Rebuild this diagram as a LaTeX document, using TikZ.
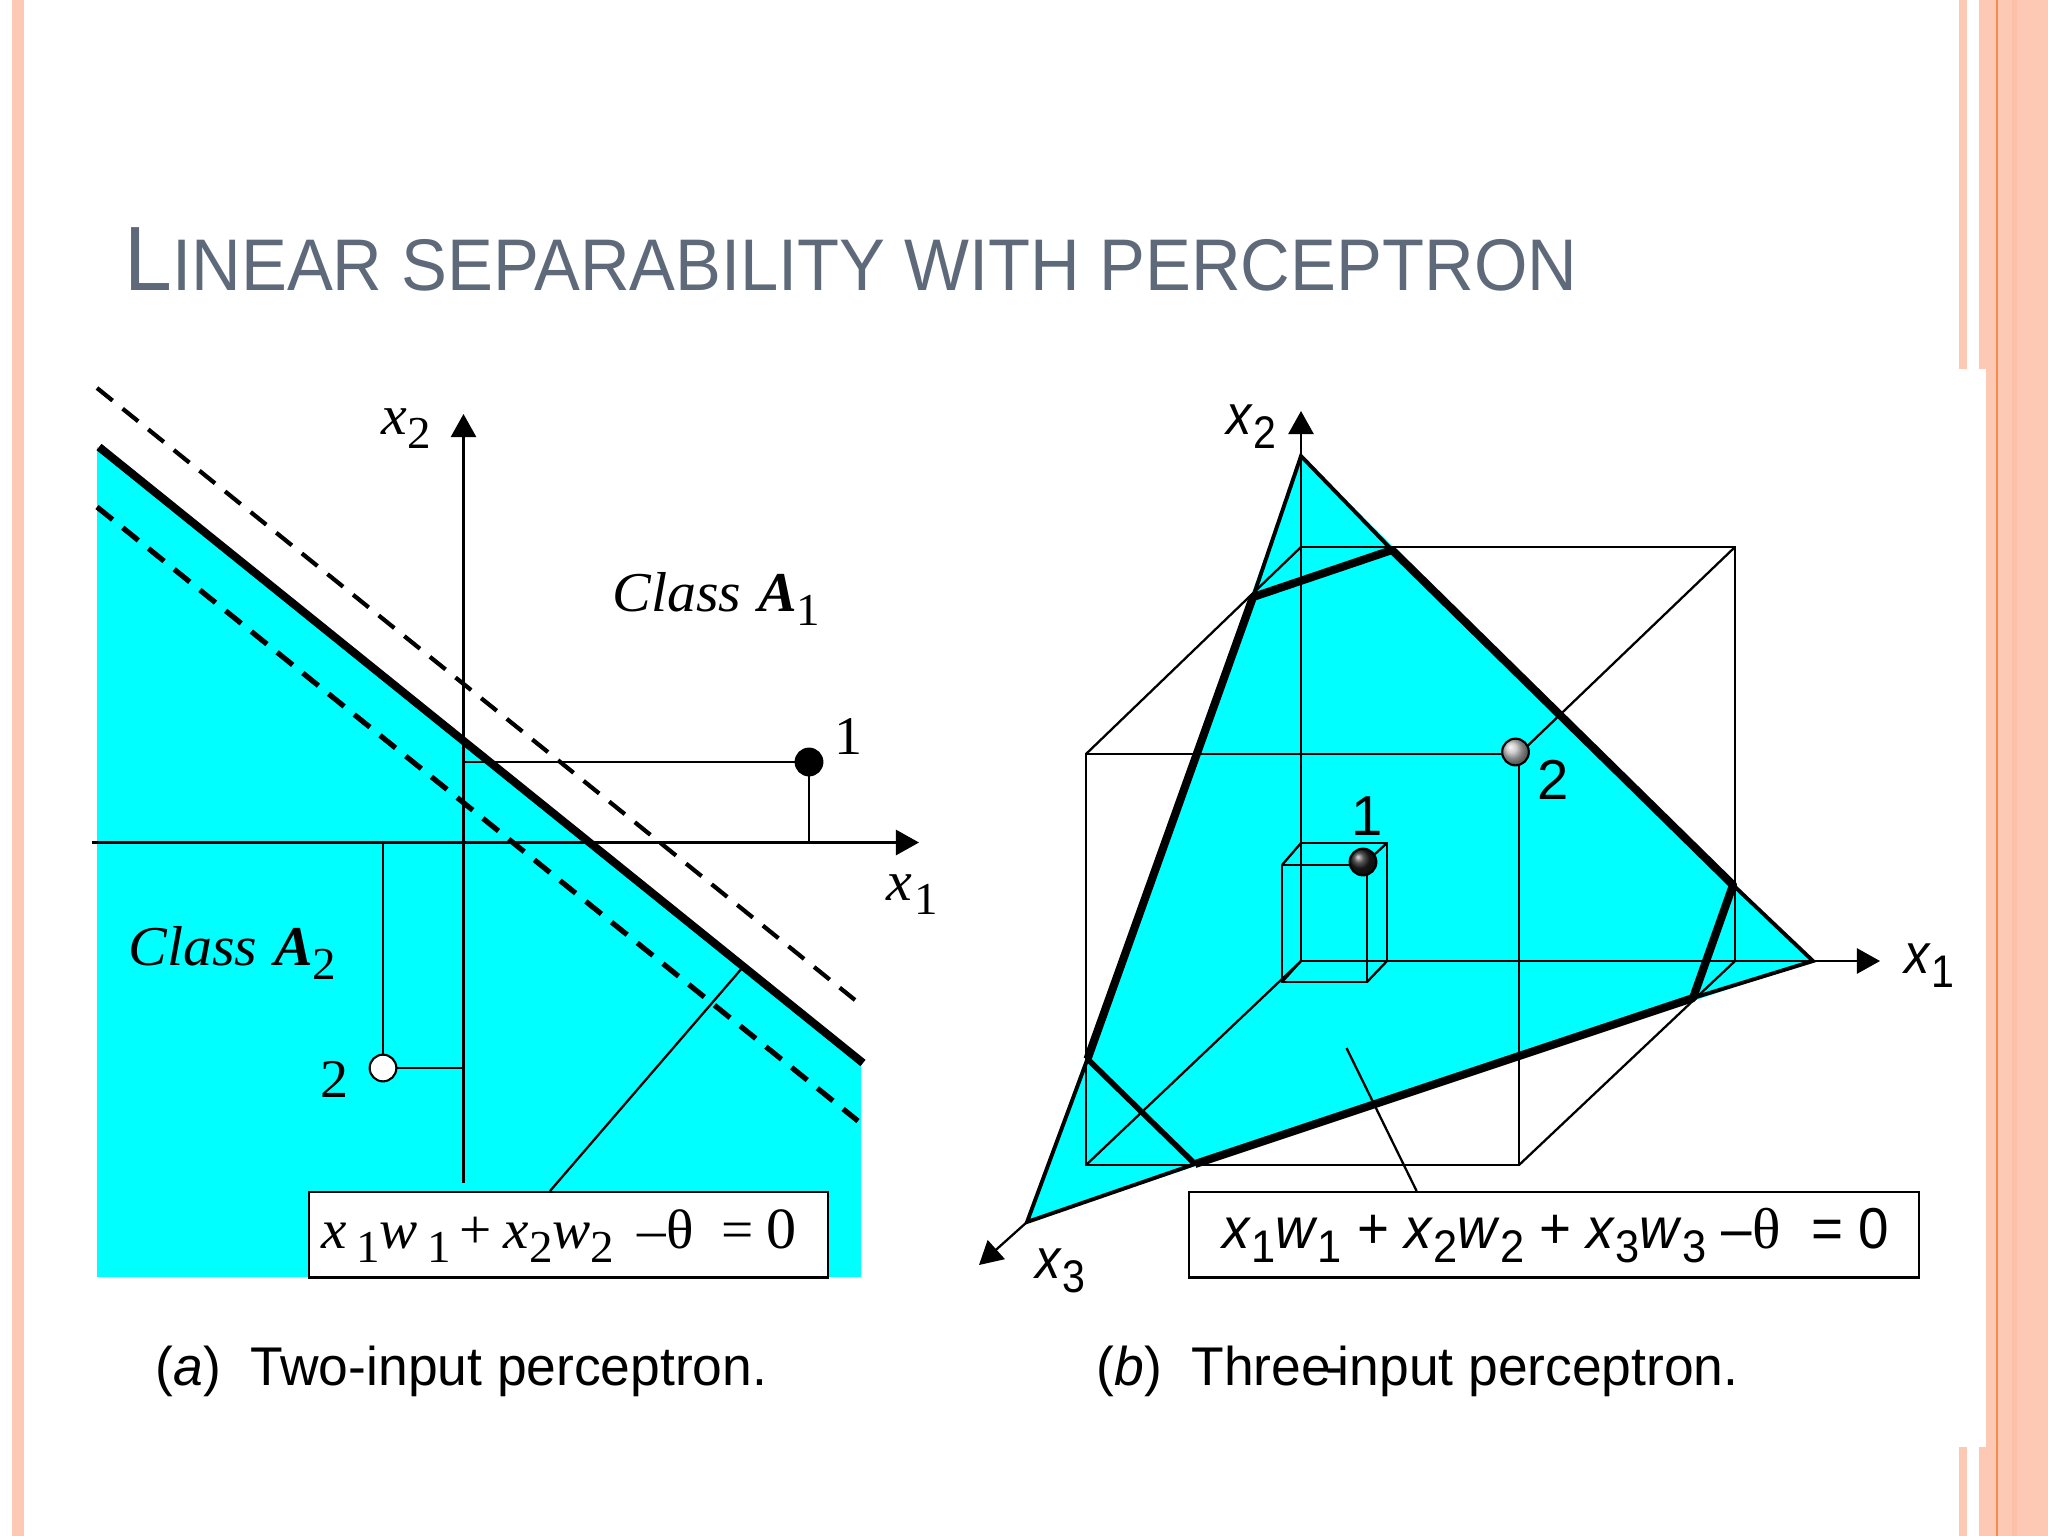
\documentclass[tikz,border=0pt]{standalone}
\usepackage{fontspec}
\setmainfont{Liberation Sans}
\newfontfamily\eqserif[FakeStretch=1.03]{Liberation Serif}
\newfontfamily\capsans[FakeStretch=0.95]{Liberation Sans}
\newfontfamily\capfig[FakeStretch=0.98]{Liberation Sans}
\newfontfamily\axsans[FakeStretch=0.9]{Liberation Sans}
\newfontfamily\titlesans[FakeStretch=0.94]{Liberation Sans}
\usetikzlibrary{arrows.meta}

\definecolor{planecyan}{HTML}{00FFFF}
\definecolor{titlegray}{HTML}{5E6A7A}
\definecolor{stripepeach}{HTML}{FDC9B4}
\definecolor{stripedark}{HTML}{FCBFA8}
\definecolor{stripeorange}{HTML}{F58B4C}

\newcommand{\lowsub}[1]{\raisebox{-4.2pt}{\fontsize{13}{13}\selectfont #1}}

\tikzset{
  thinline/.style={black, line width=0.65pt},
  heavyline/.style={black, line width=2.3pt},
  midline/.style={black, line width=1.1pt},
  axisline/.style={black, line width=0.65pt, -{Triangle[length=6.6pt, width=7.2pt]}},
  plainlabel/.style={inner sep=0pt, anchor=base west},
  eqbox/.style={draw=black, line width=0.65pt, fill=white, minimum height=24.3pt, inner sep=0pt, anchor=north west},
  dotnode/.style={circle, draw=black, line width=0.6pt, inner sep=0pt, minimum size=7.6pt}
}

\begin{document}
\begin{tikzpicture}[x=0.01cm, y=-0.01cm]
    \useasboundingbox (0,0) rectangle (2048,1536);

    % Slide border
    \fill[stripepeach] (12,0) rectangle (24,1536);
    \fill[stripepeach] (1959,0) rectangle (1967,369);
    \fill[stripepeach] (1979,0) rectangle (1986,369);
    \fill[stripepeach] (1959,1447) rectangle (1967,1536);
    \fill[stripepeach] (1979,1447) rectangle (1986,1536);
    \fill[stripepeach] (1986,0) rectangle (2048,1536);
    \fill[stripedark] (2012,0) rectangle (2017,1536);
    \fill[stripeorange] (1996,0) rectangle (1997.5,1536);

    % Title
    \node[plainlabel, text=titlegray] (title) at (124,290)
      {\titlesans\fontsize{26}{26}\selectfont L\fontsize{20.8}{26}\selectfont INEAR SEPARABILITY WITH PERCEPTRON};

    % Two-input panel: half plane
    \coordinate (O) at (463.5,842.5);
    \coordinate (lineA) at (99,447);
    \coordinate (lineB) at (863,1063);
    \fill[planecyan] (97,447) -- (861,1062) -- (861,1277) -- (97,1277) -- cycle;

    % Dashed bounds and decision line
    \draw[black, line width=1.2pt, dash pattern=on 5.7pt off 3.66pt] (97,388) -- (855,1000);
    \draw[black, line width=1.5pt, dash pattern=on 5.7pt off 3.7pt] (97,507) -- (858,1121);
    \draw[heavyline] (lineA) -- (lineB);

    % Axes
    \draw[axisline] (O |- 0,1183) -- (463.5,414);
    \draw[axisline] (92,842.5) -- (919,842.5);
    \node[plainlabel] (xtwoA) at (381,434) {\eqserif\fontsize{16}{18}\selectfont\itshape x\lowsub{\upshape 2}};
    \node[plainlabel] (xoneA) at (886,900) {\eqserif\fontsize{16}{18}\selectfont\itshape x\kern0.6pt\lowsub{\upshape 1}};

    % Points
    \node[dotnode, fill=black] (ptoneA) at (809,762) {};
    \node[dotnode, fill=white] (pttwoA) at (383,1068) {};
    \draw[thinline] (O |- ptoneA) -- (ptoneA);
    \draw[thinline] (ptoneA) -- (ptoneA |- O);
    \draw[thinline] (pttwoA) -- (pttwoA |- O);
    \draw[thinline] (pttwoA) -- (O |- pttwoA);
    \node[plainlabel, anchor=base] (numoneA) at (849,754) {\eqserif\fontsize{15.5}{18}\selectfont 1};
    \node[plainlabel, anchor=base] (numtwoA) at (335,1097) {\eqserif\fontsize{15.5}{18}\selectfont 2};

    % Class labels
    \node[plainlabel] (classone) at (612,611) {\eqserif\fontsize{16}{18}\selectfont\itshape Class\kern0.6pt\ \bfseries A\lowsub{\mdseries\upshape 1}};
    \node[plainlabel] (classtwo) at (128,965) {\eqserif\fontsize{16}{18}\selectfont\itshape Class\kern0.6pt\ \bfseries A\lowsub{\mdseries\upshape 2}};

    % Equation box with leader
    \node[eqbox, minimum width=147.6pt] (eqA) at (308,1191) {};
    \coordinate (leadA) at (743,967);
    \draw[thinline] (leadA) -- (550,1191);
    \node[plainlabel] (eqtextA) at (321,1248) {\eqserif\fontsize{15.8}{18}\selectfont
      \textit{x}\,\lowsub{1}\textit{w}\,\lowsub{1}\kern-1.5pt\ +\kern-0.8pt\ \textit{x}\lowsub{2}\textit{w}\lowsub{2} \,–θ\ \ \kern-0.3pt= \kern-0.4pt{\fontsize{16.6}{18}\selectfont 0}};

    \node[plainlabel] (capA) at (155,1385) {\capfig\fontsize{15.5}{18}\selectfont (\textit{a})\ \ Two-input perceptron.};

    % Three-input panel: plane corners
    \coordinate (Q) at (1301,961);
    \coordinate (apex) at (1301,456);
    \coordinate (vertone) at (1813,961);
    \coordinate (vertthree) at (1027,1222);
    \coordinate (cutA) at (1253,597);
    \coordinate (cutB) at (1392,550);
    \coordinate (cutC) at (1733,885);
    \coordinate (cutD) at (1693,998);
    \coordinate (cutE) at (1195,1164);
    \coordinate (cutF) at (1087.5,1059);
    \fill[planecyan] (apex) -- (vertone) -- (vertthree) -- cycle;

    % Large cube
    \draw[thinline] (1301,547) -- (1735,547) -- (1735,961);
    \draw[thinline] (1086,754) -- (1519,754) -- (1519,1165) -- (1086,1165) -- cycle;
    \draw[thinline] (1301,547) -- (1086,754);
    \draw[thinline] (1735,547) -- (1519,754);
    \draw[thinline] (1735,961) -- (1519,1165);
    \draw[thinline] (Q) -- (1086,1165);

    % Small cube
    \draw[thinline] (1301,843) -- (1387,843) -- (1387,961);
    \draw[thinline] (1282,865) -- (1363,865);
    \draw[thinline] (1282,865) -- (1282,982) -- (1367,982) -- (1367,865);
    \draw[thinline] (1301,843) -- (1282,865);
    \draw[thinline] (1387,843) -- (1363,865);
    \draw[thinline] (1387,961) -- (1367,982);
    \draw[thinline] (Q) -- (1282,982);

    % Axes
    \draw[axisline] (Q) -- (1301,411);
    \draw[axisline] (Q) -- (1880,961);
    \draw[axisline] (vertthree) -- (979,1265);
    \node[plainlabel] (xtwoB) at (1226,434) {\axsans\fontsize{16}{18}\selectfont\textit{x}\lowsub{2}};
    \node[plainlabel] (xoneB) at (1904,973) {\axsans\fontsize{16}{18}\selectfont\textit{x}\lowsub{1}};
    \node[plainlabel] (xthreeB) at (1035,1278) {\axsans\fontsize{16}{18}\selectfont\textit{x}\lowsub{3}};

    % Plane outline
    \draw[midline] (cutA) -- (apex) -- (cutB);
    \draw[midline] (cutC) -- (vertone) -- (cutD);
    \draw[midline] (cutE) -- (vertthree) -- (cutF);
    \draw[heavyline, line join=round] (cutF) -- (cutA) -- (cutB) -- (cutC) -- (cutD) -- (cutE);
    \draw[heavyline, line width=1.6pt, line join=round] (cutE) -- (cutF);

    % Points
    \node[dotnode, shading=ball, ball color=black!88] (ptoneB) at (1363,862) {};
    \node[dotnode, shading=ball, ball color=black!25] (pttwoB) at (1515.5,752) {};
    \node[plainlabel, anchor=base] (numoneB) at (1367,835) {\fontsize{16}{18}\selectfont 1};
    \node[plainlabel, anchor=base] (numtwoB) at (1553,799) {\fontsize{16}{18}\selectfont 2};

    % Equation box with leader
    \node[eqbox, minimum width=207.6pt] (eqB) at (1188,1191) {};
    \coordinate (leadB) at (1346.5,1048);
    \draw[thinline] (leadB) -- (1416.6,1191);
    \node[plainlabel] (eqtextB) at (1221.5,1248) {\capsans\fontsize{16.4}{18}\selectfont
      \textit{x}\lowsub{1}\textit{w}\lowsub{1} + \textit{x}\lowsub{2}\textit{w}\lowsub{2} + \textit{x}\lowsub{3}\textit{w}\lowsub{3} –{\eqserif θ}\ \ = 0};

    \node[plainlabel] (capB) at (1096,1385) {\capfig\fontsize{15.5}{18}\selectfont (\textit{b})\ \ Three\kern-1.6pt-\kern-1.6pt input perceptron.};

\end{tikzpicture}
\end{document}
